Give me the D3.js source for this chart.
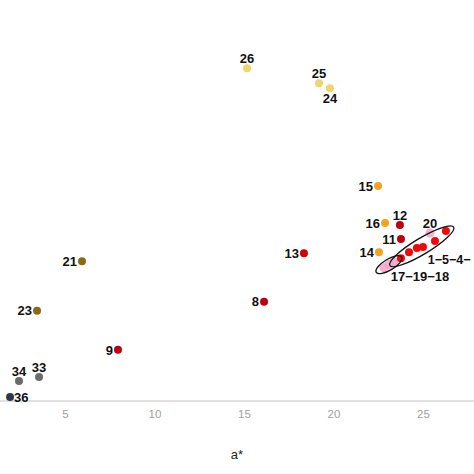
<!DOCTYPE html>
<html>
<head>
<meta charset="utf-8">
<script src="https://cdn.jsdelivr.net/npm/d3@7"></script>
<style>
  body { margin: 0; background: #fff; }
  svg { display: block; font-family: 'Liberation Sans', Arial, sans-serif; }
</style>
</head>
<body>
<div id="chart"></div>
<script>
// sample ids, CIELAB a* / b* and colour class
const ids   = ['26', '25', '24', '15', '16', '12', '11', '14', '13', '21', '8', '23', '9', '34', '33', '36', '20',
               '1', '5', '4', '2', '3', '6', '17', '19', '18'];
const aStar = [15.17, 19.19, 19.80, 22.49, 22.88, 23.71, 23.77, 22.54, 18.35, 5.95, 16.12, 3.44, 7.96, 2.43, 3.55, 1.93, 25.39,
               23.77, 24.22, 24.66, 25.00, 25.67, 26.28, 22.82, 23.10, 23.38];
const bStar = [66.4, 63.4, 62.4, 42.9, 35.5, 35.1, 32.3, 29.7, 29.5, 27.9, 19.8, 18.0, 10.2, 4.0, 4.8, 0.8, 33.5,
               28.5, 29.7, 30.5, 30.7, 31.9, 33.9, 26.6, 27.2, 27.8];
const kind  = ['yellow', 'yellow', 'yellow', 'orange', 'orange', 'darkred', 'darkred', 'orange', 'red', 'olive', 'darkred', 'olive', 'darkred', 'gray', 'gray', 'slate', 'pink',
               'red2', 'red2', 'red2', 'red2', 'red2', 'red2', 'pink', 'pink', 'pink'];
// where the single label sits: l(eft), t(op), b(ottom), r(ight), or none
const labelAt = ['t', 't', 'b', 'l', 'l', 't', 'l', 'l', 'l', 'l', 'l', 'l', 'l', 't', 't', 'r', 't',
                 '', '', '', '', '', '', '', '', ''];

// clusters circled with an ellipse (the first label runs off the right edge in the source)
const clusters = [
  {members: ['1', '5', '4', '2', '3', '6'], label: '1−5−4−', pad: 11, minor: 8},
  {members: ['17', '19', '18'], label: '17−19−18', pad: 9, minor: 5.5}
];

const xTicks = [5, 10, 15, 20, 25];

const colors = {
  yellow: '#f1d46b',
  orange: '#f5a21f',
  darkred: '#c00010',
  red: '#d40000',
  red2: '#ee0a0a',
  olive: '#8c6a12',
  gray: '#6b6b6b',
  slate: '#2e3848',
  pink: '#f3a3c9'
};

const width = 474, height = 474;
const axisY = 401;

const x = d3.scaleLinear().domain([1.369, 27.85]).range([0, width]);
const y = d3.scaleLinear().domain([0, 80]).range([axisY, 0]);

const data = ids.map((id, i) => ({id, a: aStar[i], b: bStar[i], kind: kind[i], at: labelAt[i]}));
const byId = new Map(data.map(d => [d.id, d]));

const svg = d3.select('#chart')
  .append('svg')
  .attr('width', width)
  .attr('height', height)
  .attr('viewBox', [0, 0, width, height]);

// x axis
const xAxis = svg.append('g')
  .attr('transform', `translate(0,${axisY})`)
  .call(d3.axisBottom(x).tickValues(xTicks).tickSize(0).tickPadding(9));
xAxis.select('.domain').attr('stroke', '#c4c4c4').attr('stroke-width', 1.2)
  .attr('d', `M0,0H${width}`);
xAxis.selectAll('.tick text')
  .attr('fill', '#a0a0a0')
  .style('font-size', '11.5px')
  .style('font-family', "'Liberation Sans', Arial, sans-serif");

svg.append('text')
  .attr('x', x(d3.mean(x.domain())))
  .attr('y', 459)
  .attr('text-anchor', 'middle')
  .attr('fill', '#222')
  .style('font-size', '13px')
  .text('a*');

// points (pink ones drawn first, a bit soft)
const ordered = data.slice().sort((p, q) => (q.kind === 'pink') - (p.kind === 'pink'));
svg.append('g')
  .selectAll('circle')
  .data(ordered)
  .join('circle')
  .attr('cx', d => x(d.a))
  .attr('cy', d => y(d.b))
  .attr('r', d => d.kind === 'pink' ? 4.6 : 4)
  .attr('fill', d => colors[d.kind])
  .attr('fill-opacity', d => d.kind === 'pink' ? 0.85 : 1);

// ellipses around clusters
clusters.forEach(c => {
  const pts = c.members.map(m => byId.get(m)).map(d => [x(d.a), y(d.b)]);
  const first = pts[0], last = pts[pts.length - 1];
  const cx = d3.mean(pts, p => p[0]), cy = d3.mean(pts, p => p[1]);
  const angle = Math.atan2(last[1] - first[1], last[0] - first[0]) * 180 / Math.PI;
  const half = Math.hypot(last[0] - first[0], last[1] - first[1]) / 2;
  svg.append('ellipse')
    .attr('transform', `translate(${cx},${cy}) rotate(${angle})`)
    .attr('rx', half + c.pad)
    .attr('ry', c.minor)
    .attr('fill', 'none')
    .attr('stroke', '#111')
    .attr('stroke-width', 1.3);
  c.box = {pts, cx, cy};
});

// point labels
const labelText = svg.append('g')
  .style('font-size', '13px')
  .style('font-weight', 'bold')
  .attr('fill', '#111');

labelText.selectAll('text')
  .data(data.filter(d => d.at))
  .join('text')
  .attr('x', d => {
    const px = x(d.a);
    if (d.at === 'l') return px - 5;
    if (d.at === 'r') return px + 4;
    return px;
  })
  .attr('y', d => {
    const py = y(d.b);
    if (d.at === 't') return py - 10;
    if (d.at === 'b') return py + 10;
    return py;
  })
  .attr('dy', '0.36em')
  .attr('text-anchor', d => d.at === 'l' ? 'end' : d.at === 'r' ? 'start' : 'middle')
  .text(d => d.id);

// cluster labels
const big = clusters[0].box, small = clusters[1].box;
labelText.append('text')
  .attr('x', big.cx + 6)
  .attr('y', big.cy + 13)
  .attr('dy', '0.36em')
  .style('font-size', '12.5px')
  .text(clusters[0].label);

labelText.append('text')
  .attr('x', small.cx + 31)
  .attr('y', small.cy + 12)
  .attr('dy', '0.36em')
  .attr('text-anchor', 'middle')
  .text(clusters[1].label);
</script>
</body>
</html>
